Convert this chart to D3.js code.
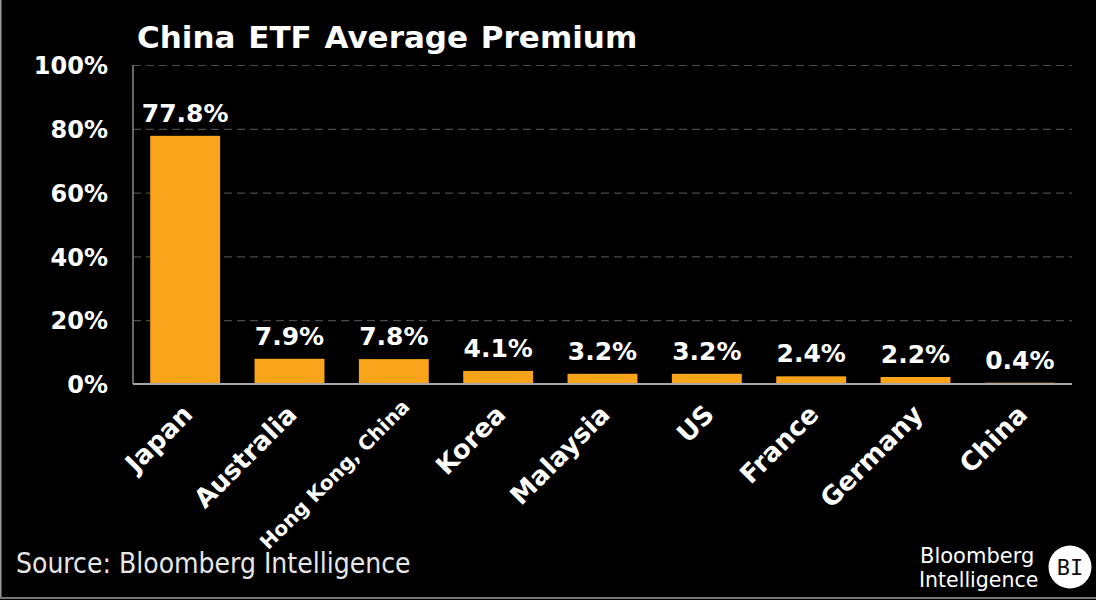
<!DOCTYPE html>
<html>
<head>
<meta charset="utf-8">
<script src="https://cdn.jsdelivr.net/npm/d3@7"></script>
<style>
  html, body { margin: 0; padding: 0; background: #000; }
  svg { display: block; }
</style>
</head>
<body>
<svg id="chart" width="1096" height="600"></svg>
<script>
const categories = ["Japan", "Australia", "Hong Kong, China", "Korea", "Malaysia", "US", "France", "Germany", "China"];
const premiums = [77.8, 7.9, 7.8, 4.1, 3.2, 3.2, 2.4, 2.2, 0.4];
const yTicks = [0, 20, 40, 60, 80, 100];
const titleText = "China ETF Average Premium";
const sourceText = "Source: Bloomberg Intelligence";

const svg = d3.select("#chart");
const W = 1096, H = 600;
const pLeft = 133, pRight = 1072, pTop = 65, pBottom = 384;

svg.append("rect").attr("width", W).attr("height", H).attr("fill", "#000");

const x = d3.scaleBand().domain(categories).range([pLeft, pRight]).paddingInner(0.33).paddingOuter(0.165);
const y = d3.scaleLinear().domain([0, 100]).range([pBottom, pTop]);

// gridlines
const grid = svg.append("g")
  .attr("transform", `translate(${pLeft},0)`)
  .call(d3.axisRight(y).tickValues(yTicks.filter(t => t > 0)).tickSize(pRight - pLeft).tickFormat(""));
grid.select(".domain").remove();
grid.selectAll("line").attr("stroke", "#4a4a4a").attr("stroke-width", 1.2).attr("stroke-dasharray", "8,5");

// y axis labels
const yAxis = svg.append("g")
  .attr("transform", `translate(${pLeft},0)`)
  .call(d3.axisLeft(y).tickValues(yTicks).tickSize(0).tickPadding(25).tickFormat(d => d + "%"));
yAxis.select(".domain").remove();
yAxis.selectAll("text")
  .attr("fill", "#fff").attr("font-family", "DejaVu Sans").attr("font-weight", "bold")
  .attr("font-size", 24).attr("dy", "0.36em");

// bars
svg.append("g").selectAll("rect").data(premiums).join("rect")
  .attr("x", (d, i) => x(categories[i]))
  .attr("width", x.bandwidth())
  .attr("y", d => y(d))
  .attr("height", d => y(0) - y(d))
  .attr("fill", "#FAA41B");

// value labels
svg.append("g").selectAll("text").data(premiums).join("text")
  .attr("x", (d, i) => x(categories[i]) + x.bandwidth() / 2)
  .attr("y", d => y(d) - 14)
  .attr("text-anchor", "middle")
  .attr("fill", "#fff").attr("font-family", "DejaVu Sans").attr("font-weight", "bold")
  .attr("font-size", 25)
  .text(d => d.toFixed(1) + "%");

// axis lines
svg.append("line").attr("x1", pLeft).attr("x2", pLeft).attr("y1", pTop).attr("y2", pBottom)
  .attr("stroke", "#8a8a8a").attr("stroke-width", 1.5);
svg.append("line").attr("x1", pLeft).attr("x2", pRight).attr("y1", pBottom).attr("y2", pBottom)
  .attr("stroke", "#a8a8a8").attr("stroke-width", 2);

// x axis labels
const xAxis = svg.append("g")
  .attr("transform", `translate(0,${pBottom})`)
  .call(d3.axisBottom(x).tickSize(0).tickFormat(d => d));
xAxis.select(".domain").remove();
xAxis.selectAll("text")
  .attr("fill", "#fff").attr("font-family", "DejaVu Sans").attr("font-weight", "bold")
  .attr("font-size", d => d.length > 10 ? 20 : 26)
  .attr("text-anchor", "end")
  .attr("dy", 0)
  .attr("y", 0)
  .attr("transform", d => `translate(${d.length > 10 ? 17 : 9},${d.length > 10 ? 24 : 32}) rotate(-45)`);

// title
svg.append("text").attr("x", 137).attr("y", 48)
  .attr("fill", "#fff").attr("font-family", "DejaVu Sans").attr("font-weight", "bold")
  .attr("font-size", 31).attr("word-spacing", 2).text(titleText);

// source
svg.append("text").attr("x", 16).attr("y", 573)
  .attr("fill", "#e6e6e6").attr("font-family", "DejaVu Sans Condensed, DejaVu Sans").attr("font-stretch", "condensed")
  .attr("font-size", 28).text(sourceText);

// logo
const logo = svg.append("g");
logo.append("text").attr("x", 920).attr("y", 563).attr("fill", "#fff")
  .attr("font-family", "DejaVu Sans").attr("font-size", 21).text("Bloomberg");
logo.append("text").attr("x", 919).attr("y", 587).attr("fill", "#fff")
  .attr("font-family", "DejaVu Sans").attr("font-size", 20.5).text("Intelligence");
logo.append("circle").attr("cx", 1070).attr("cy", 567).attr("r", 21.5).attr("fill", "#fff");
logo.append("text").attr("x", 1070).attr("y", 567).attr("dy", "0.36em").attr("text-anchor", "middle")
  .attr("fill", "#111").attr("font-family", "DejaVu Sans Mono").attr("font-size", 22).text("BI");

// frame
svg.append("line").attr("x1", 0.75).attr("x2", 0.75).attr("y1", 0).attr("y2", 598).attr("stroke", "#9a9a9a").attr("stroke-width", 1.5);
svg.append("line").attr("x1", 0).attr("x2", W).attr("y1", 598).attr("y2", 598).attr("stroke", "#777").attr("stroke-width", 2);
</script>
</body>
</html>
